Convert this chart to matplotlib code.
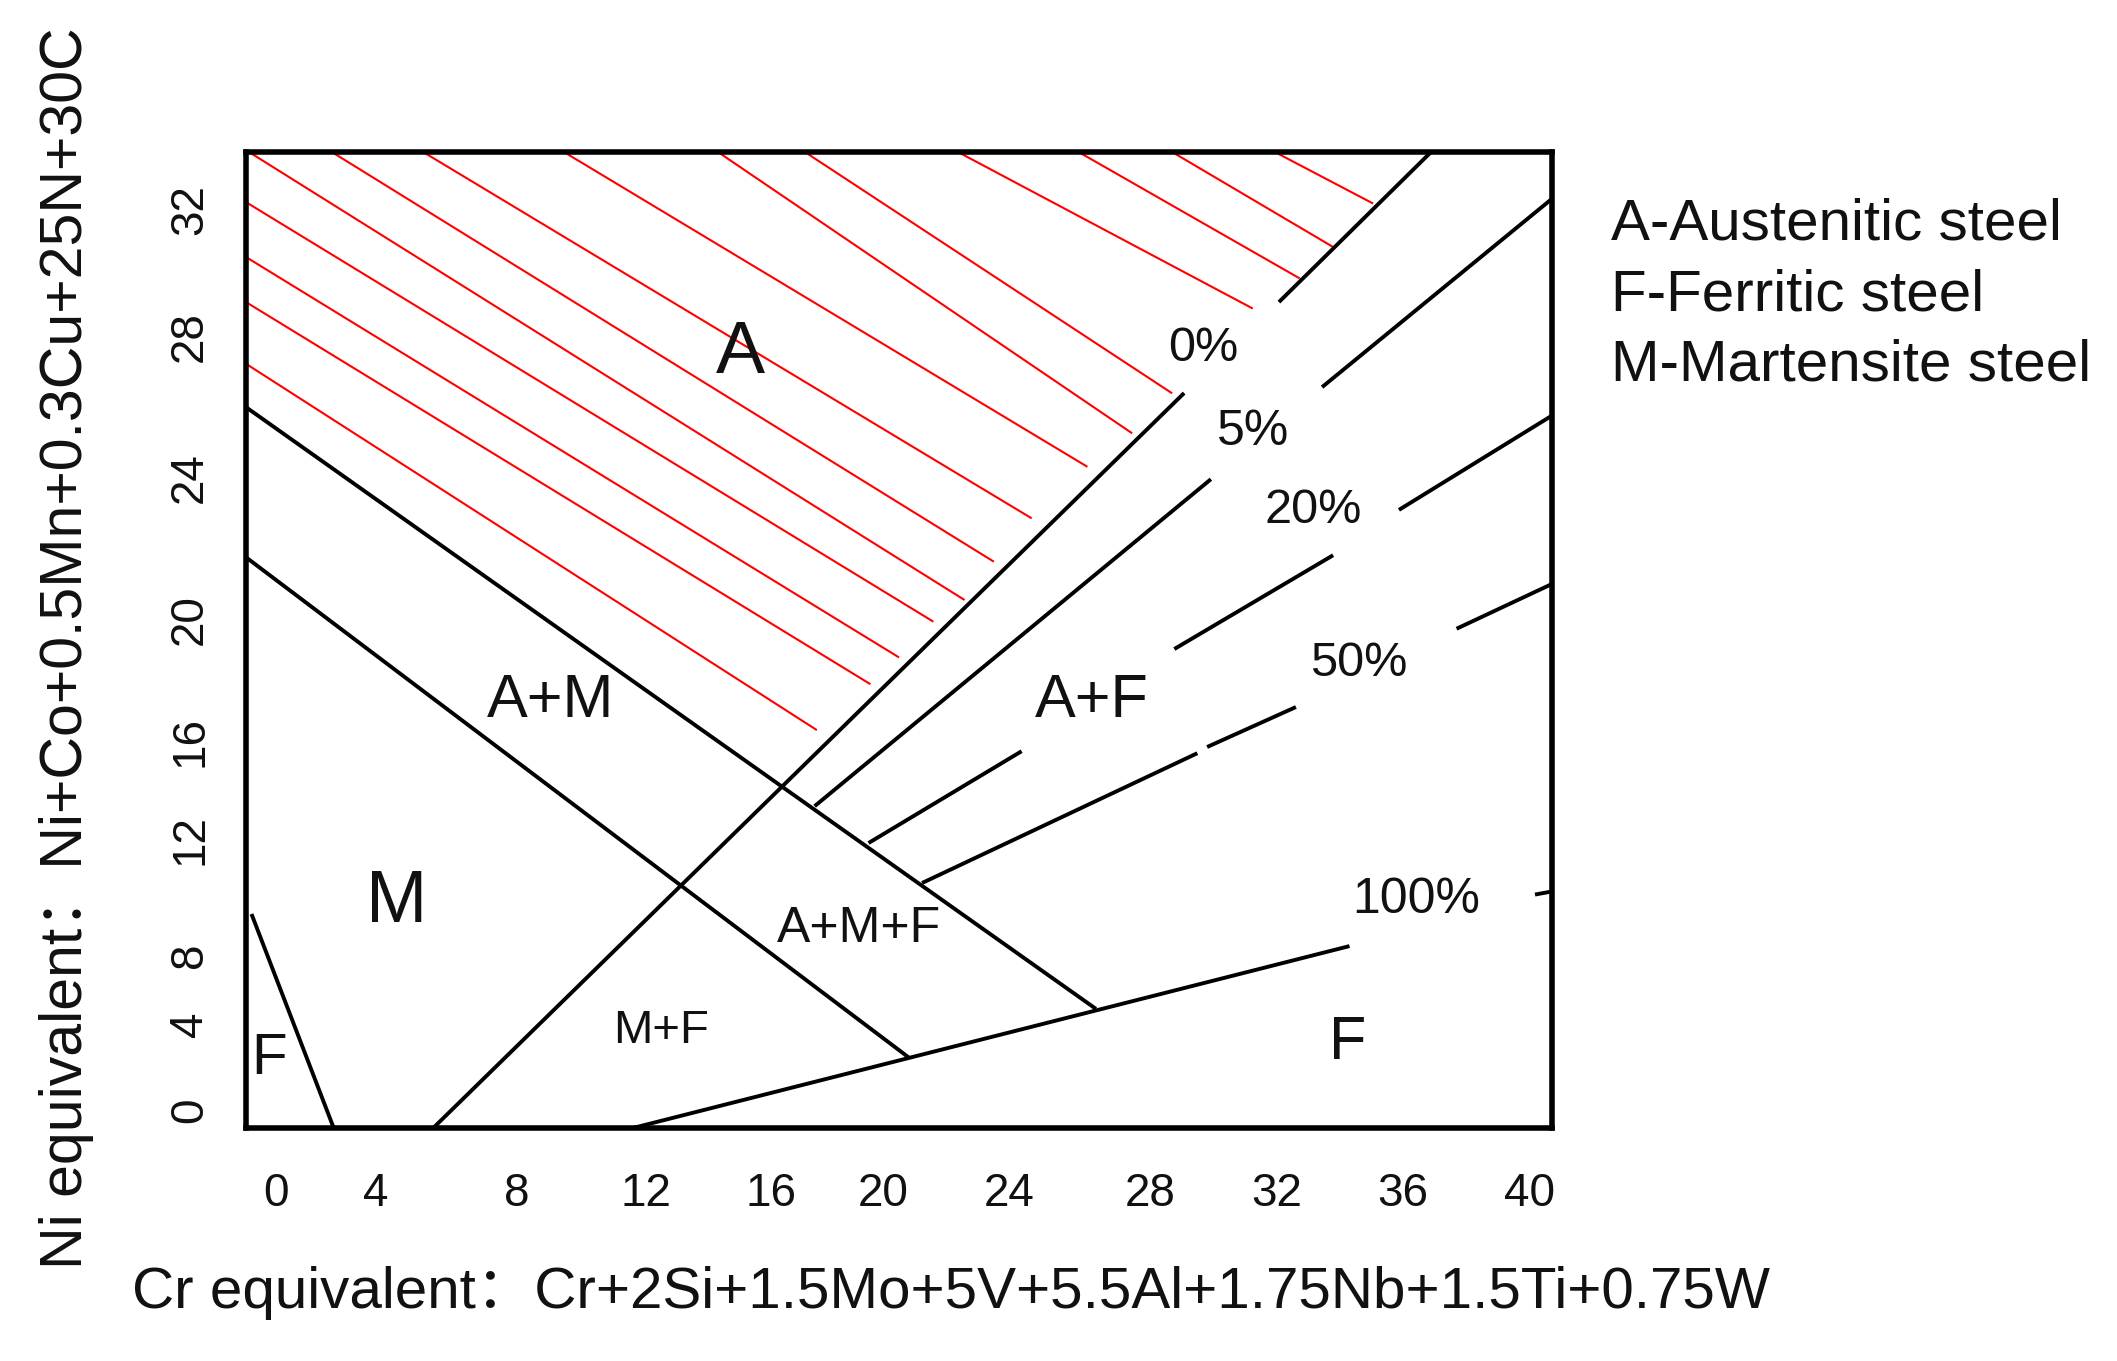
import matplotlib
matplotlib.use("Agg")
import matplotlib.pyplot as plt

plt.rcParams['font.family'] = ['Liberation Sans', 'Noto Sans CJK SC', 'DejaVu Sans']

# axis extent (Cr eq, Ni eq)
x_range = (-0.97, 40.51)
y_range = (-0.60, 34.06)

# tick labels as they sit on the original drawing
xtick_labels = ['0', '4', '8', '12', '16', '20', '24', '28', '32', '36', '40']
xtick_pos = [0, 3.16, 7.65, 11.73, 15.71, 19.27, 23.27, 27.76, 31.77, 35.78, 39.79]
ytick_labels = ['0', '4', '8', '12', '16', '20', '24', '28', '32']
ytick_pos = [0.04, 3.07, 5.54, 9.66, 13.14, 17.44, 22.51, 27.52, 32.02]

# phase boundaries, each a list of (x0, y0, x1, y1) pieces (gaps left for labels)
a_am_line = [(-0.97, 25.01, 26.03, 3.63)]
am_m_line = [(-0.97, 19.68, 20.08, 1.91)]
f_m_line = [(-0.78, 7.00, 1.83, -0.60)]
ferrite_0 = [(4.99, -0.60, 28.83, 25.50), (31.84, 28.73, 36.67, 34.06)]
ferrite_5 = [(17.10, 10.83, 29.68, 22.44), (33.21, 25.71, 40.51, 32.40)]
ferrite_20 = [(18.81, 9.52, 23.67, 12.78), (28.52, 16.41, 33.56, 19.74),
              (35.65, 21.35, 40.51, 24.70)]
ferrite_50 = [(20.51, 8.10, 29.25, 12.71), (29.56, 12.93, 32.38, 14.35),
              (37.48, 17.13, 40.51, 18.72)]
ferrite_100 = [(11.33, -0.60, 34.08, 5.86), (39.97, 7.69, 40.51, 7.80)]

# red hatching in the austenite field
hatch_x0 = [31.71, 28.45, 25.48, 21.65, 16.79, 14.03, 9.14, 4.67, 1.77, -0.86,
            -0.97, -0.97, -0.97, -0.97]
hatch_y0 = [34.06] * 10 + [32.29, 30.34, 28.74, 26.55]
hatch_x1 = [34.83, 33.63, 32.50, 31.01, 28.45, 27.18, 25.76, 23.99, 22.79, 21.86,
            20.87, 19.78, 18.87, 17.17]
hatch_y1 = [32.23, 30.64, 29.57, 28.50, 25.49, 24.07, 22.88, 21.05, 19.51, 18.15,
            17.38, 16.11, 15.16, 13.53]

# region / ferrite-content labels
region_text = ['A', 'A+M', 'M', 'A+M+F', 'M+F', 'F', 'A+F', 'F',
               '0%', '5%', '20%', '50%', '100%']
region_x = [14.73, 8.70, 3.84, 18.50, 12.22, -0.23, 25.90, 34.02,
            29.45, 31.01, 32.92, 34.38, 36.21]
region_y = [26.92, 14.56, 7.42, 6.48, 2.86, 1.85, 14.55, 2.39,
            27.09, 24.12, 21.32, 15.91, 7.49]
region_size = [53, 44, 53, 36, 34, 42, 44, 44, 35, 36, 35, 35, 36]

legend_lines = ['A-Austenitic steel', 'F-Ferritic steel', 'M-Martensite steel']

fig = plt.figure(figsize=(21.17, 13.61), dpi=100)
ax = fig.add_axes([0.11597, 0.17120, 0.61715, 0.71712])

for x0, y0, x1, y1 in zip(hatch_x0, hatch_y0, hatch_x1, hatch_y1):
    ax.plot([x0, x1], [y0, y1], color='#ff0000', lw=1.5, solid_capstyle='butt')

for boundary in [a_am_line, am_m_line, f_m_line, ferrite_0, ferrite_5,
                 ferrite_20, ferrite_50, ferrite_100]:
    for x0, y0, x1, y1 in boundary:
        ax.plot([x0, x1], [y0, y1], color='black', lw=2.8, solid_capstyle='butt')

for t, x, y, s in zip(region_text, region_x, region_y, region_size):
    ax.text(x, y, t, fontsize=s, ha='center', va='center', color='#111111')

ax.set_xlim(*x_range)
ax.set_ylim(*y_range)
for sp in ax.spines.values():
    sp.set_linewidth(4)

ax.set_xticks(xtick_pos, xtick_labels)
ax.set_yticks(ytick_pos, ytick_labels, rotation=90, va='center')
ax.tick_params(axis='both', length=0, labelsize=33, colors='#111111')
ax.tick_params(axis='x', pad=32)
ax.tick_params(axis='y', pad=24)

ax.set_xlabel('Cr equivalent：Cr+2Si+1.5Mo+5V+5.5Al+1.75Nb+1.5Ti+0.75W',
              fontsize=42, va='baseline', color='#111111')
ax.xaxis.set_label_coords(0.5397, -0.1844)
ax.set_ylabel('Ni equivalent：Ni+Co+0.5Mn+0.3Cu+25N+30C',
              fontsize=42.5, va='baseline', color='#111111')
ax.yaxis.set_label_coords(-0.1251, 0.4913)

for i, line in enumerate(legend_lines):
    fig.text(0.7612, 0.8237 - i * 0.0515, line, fontsize=42,
             ha='left', va='baseline', color='#111111')

fig.savefig('out.png', dpi=100)
